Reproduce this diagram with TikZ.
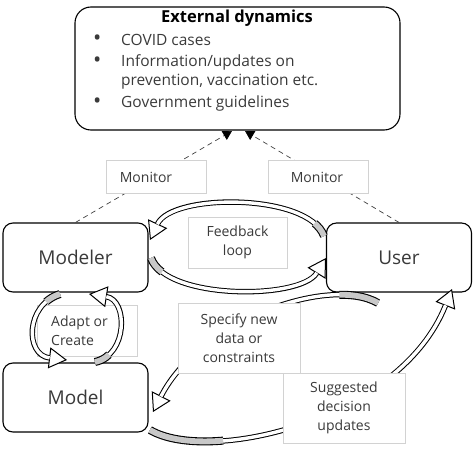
\documentclass[tikz,border=0pt]{standalone}
\usepackage{fontspec}
\setmainfont{Open Sans}
\usetikzlibrary{arrows.meta,shapes.geometric}
\definecolor{txt}{HTML}{3A3A3A}
\definecolor{lgrey}{HTML}{D2D2D2}
\definecolor{tailgrey}{HTML}{C8C8C8}
\newcommand\curvearr[5]{%
  \draw[line width=5.4pt, -{Triangle[width=21pt,length=18pt,line width=1pt,fill=white]}] #1 .. controls #2 and #3 .. #4;
  \draw[line width=8pt, dash pattern=on #5 off 2000pt] #1 .. controls #2 and #3 .. #4;
  \draw[line width=3.4pt, white, shorten >=17.5pt] #1 .. controls #2 and #3 .. #4;
  \draw[line width=5.8pt, tailgrey, dash pattern=on #5 off 2000pt] #1 .. controls #2 and #3 .. #4;
}
\begin{document}
\begin{tikzpicture}[x=1pt,y=-1pt,
  bigbox/.style={draw, line width=1.1pt, rounded corners=10pt, fill=white, text=txt,
    font=\fontsize{19}{22}\selectfont, minimum width=145pt, minimum height=69pt, inner sep=0pt},
  lbl/.style={draw=lgrey, line width=0.7pt, fill=white, text=txt, align=center,
    font=\fontsize{14}{19}\selectfont, inner sep=0pt},
  monline/.style={dash pattern=on 5pt off 4pt, line width=0.7pt, black!75,
    -{Triangle[width=10pt,length=9pt,black]}},
  bul/.style={anchor=west, text=txt, font=\fontsize{15.5}{18}\selectfont, inner sep=0pt}
]
\useasboundingbox (0,0) rectangle (474,449);
% external dynamics
\node[draw, line width=1.1pt, rounded corners=16pt, minimum width=325pt, minimum height=123pt, inner sep=0pt] (ext) at (237.5,68.5) {};
\node[font=\bfseries\fontsize{16.5}{18}\selectfont, inner sep=0pt] (title) at (237,18) {External dynamics};
\node[bul, font=\fontsize{22}{18}\selectfont] (b1) at (93,40) {•};
\node[bul] (t1) at (121,40) {COVID cases};
\node[bul, font=\fontsize{22}{18}\selectfont] (b2) at (93,62) {•};
\node[bul] (t2) at (121,62) {Information/updates on};
\node[bul] (t3) at (121,82) {prevention, vaccination etc.};
\node[bul, font=\fontsize{22}{18}\selectfont] (b4) at (93,103) {•};
\node[bul] (t4) at (121,103) {Government guidelines};
\coordinate (eL) at (232,131);
\coordinate (eR) at (245,131);
% main boxes
\node[bigbox] (modeler) at (75.5,257.5) {Modeler};
\node[bigbox] (user) at (399,257.5) {User};
\node[bigbox] (model) at (75.5,397.5) {Model};
% monitor lines
\draw[monline] (modeler.north) -- (eL);
\draw[monline] (user.north) -- (eR);
\node[lbl, minimum width=100pt, minimum height=33pt] (mon1) at (156,176.5) {};
\node[text=txt, font=\fontsize{14}{17}\selectfont, inner sep=0pt] (mon1t) at (146,177) {Monitor};
\node[lbl, minimum width=100pt, minimum height=33pt] (mon2) at (318,176.5) {};
\node[text=txt, font=\fontsize{14}{17}\selectfont, inner sep=0pt] (mon2t) at (317,177) {Monitor};
% feedback
\node[lbl, minimum width=99pt, minimum height=51pt] (fb) at (237.5,242.5) {Feedback\\loop};
\node[lbl, minimum width=100pt, minimum height=51pt] (adapt) at (87,330.5) {};
\node[text=txt, align=left, font=\fontsize{14}{19}\selectfont, inner sep=0pt, anchor=west] (adaptt) at (51,330.5) {Adapt or\\Create};
% curved arrows
\coordinate (fa0) at (324,236); \coordinate (fa1) at (150,240);
\curvearr{(fa0)}{(308,193)}{(172,193)}{(fa1)}{16pt}
\coordinate (fb0) at (151,258); \coordinate (fb1) at (326,258);
\curvearr{(fb0)}{(166,300)}{(300,300)}{(fb1)}{18pt}
\coordinate (ac0) at (60,294); \coordinate (ac1) at (67,360);
\curvearr{(ac0)}{(25,305)}{(25,355)}{(ac1)}{16pt}
\coordinate (ad0) at (95,362); \coordinate (ad1) at (89,294);
\curvearr{(ad0)}{(128,355)}{(128,300)}{(ad1)}{16pt}
\coordinate (um0) at (378,303); \coordinate (um1) at (153,412);
\curvearr{(um0)}{(330,275)}{(200,320)}{(um1)}{40pt}
\node[lbl, minimum width=122pt, minimum height=70pt] (spec) at (239,338) {Specify new\\data or\\constraints};
\coordinate (mu0) at (150,430); \coordinate (mu1) at (452,289);
\curvearr{(mu0)}{(210,465)}{(400,420)}{(mu1)}{75pt}
\node[lbl, minimum width=122pt, minimum height=70pt] (sugg) at (344,408) {Suggested\\decision\\updates};
\end{tikzpicture}
\end{document}
